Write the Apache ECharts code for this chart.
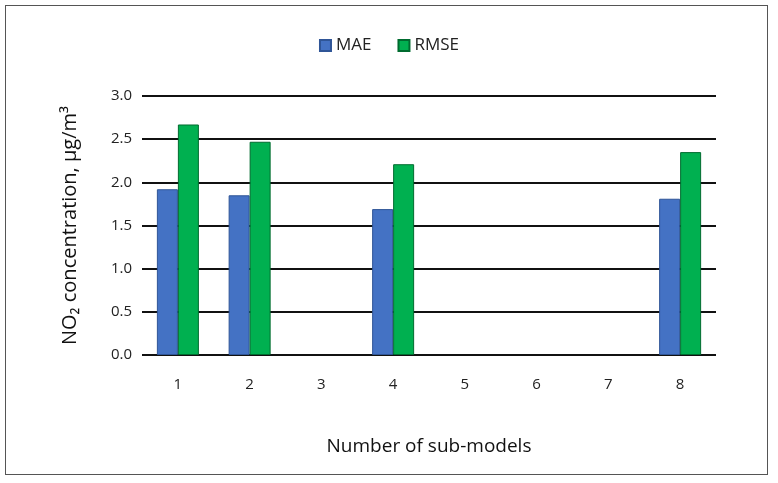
<!DOCTYPE html>
<html><head><meta charset="utf-8">
<script src="https://cdn.jsdelivr.net/npm/echarts@6/dist/echarts.min.js"></script>
<style>html,body{margin:0;padding:0;background:#fff}#c{width:778px;height:483px}
#b{position:absolute;left:5px;top:5px;width:763px;height:470px;border:1.5px solid #555;box-sizing:border-box;pointer-events:none}</style>
</head><body><div id="c"></div><div id="b"></div>
<script>
const categories = ['1','2','3','4','5','6','7','8'];
const mae  = [1.92, 1.85, null, 1.69, null, null, null, 1.81];
const rmse = [2.67, 2.47, null, 2.21, null, null, null, 2.35];
const yTicks = [0, 0.5, 1, 1.5, 2, 2.5, 3];
const chart = echarts.init(document.getElementById('c'));
const F = 'Open Sans, Liberation Sans, sans-serif';
chart.setOption({
  animation:false,
  legend:{top:32,left:'center',icon:'rect',itemWidth:11,itemHeight:11,itemGap:26,
    textStyle:{fontFamily:F,fontSize:17,color:'#222'},data:['MAE','RMSE']},
  grid:{left:142,right:62,top:96,bottom:128},
  xAxis:{type:'category',data:categories,
    axisLine:{show:false},axisTick:{show:false},
    axisLabel:{fontFamily:F,fontSize:15,color:'#222',margin:22},
    name:'Number of sub-models',nameLocation:'middle',nameGap:82,
    nameTextStyle:{fontFamily:F,fontSize:19,color:'#111'}},
  yAxis:{type:'value',min:0,max:3,interval:0.5,
    axisLabel:{fontFamily:F,fontSize:15,color:'#222',margin:10,formatter:v=>v.toFixed(1)},
    splitLine:{lineStyle:{color:'#111',width:2}},
    name:'NO₂ concentration, μg/m³',nameLocation:'middle',nameGap:62,
    nameTextStyle:{fontFamily:F,fontSize:20,color:'#111'}},
  series:[
    {name:'MAE',type:'bar',data:mae,barWidth:21,barGap:'0%',
      itemStyle:{color:'#4472C4',borderColor:'#2f5597',borderWidth:1}},
    {name:'RMSE',type:'bar',data:rmse,barWidth:21,
      itemStyle:{color:'#00B050',borderColor:'#006b2f',borderWidth:1}}
  ]
});
</script></body></html>
